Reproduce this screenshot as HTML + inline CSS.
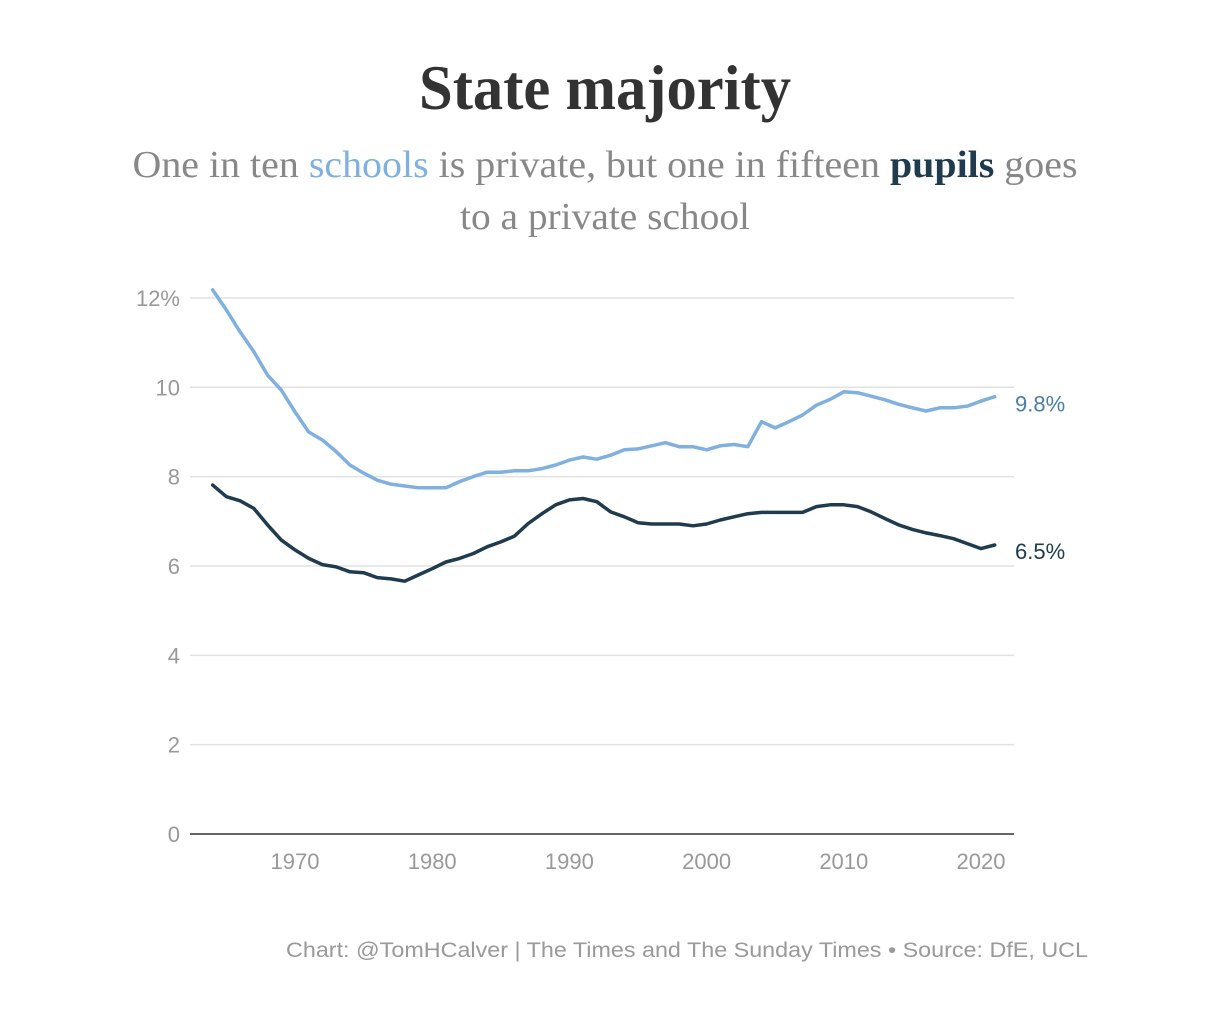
<!DOCTYPE html>
<html><head><meta charset="utf-8"><style>
html,body{margin:0;padding:0;background:#fff;width:1220px;height:1020px;overflow:hidden}
svg{display:block}
.serif{font-family:"Liberation Serif",serif}
.sans{font-family:"Liberation Sans",sans-serif}
</style></head><body>
<svg id="chart" width="1220" height="1020">
<text class="serif" x="605" y="109" text-anchor="middle" font-size="64" font-weight="bold" fill="#333" textLength="372" lengthAdjust="spacingAndGlyphs">State majority</text>
<text class="serif" x="605" y="177" text-anchor="middle" font-size="38" fill="#888" textLength="945" lengthAdjust="spacingAndGlyphs">One in ten <tspan fill="#7fb0e0">schools</tspan> is private, but one in fifteen <tspan fill="#1f3b4d" font-weight="bold">pupils</tspan> goes</text>
<text class="serif" x="605" y="229" text-anchor="middle" font-size="38" fill="#888" textLength="290" lengthAdjust="spacingAndGlyphs">to a private school</text>
<g id="grid"></g><g id="lines"></g>
<text class="sans" x="1088" y="957" text-anchor="end" font-size="21" fill="#999" textLength="802" lengthAdjust="spacingAndGlyphs">Chart: @TomHCalver | The Times and The Sunday Times • Source: DfE, UCL</text>
</svg>
<script>
const years=[];for(let y=1964;y<=2021;y++)years.push(y);
const schools=[12.18,11.73,11.24,10.8,10.27,9.94,9.45,9.0,8.82,8.56,8.26,8.08,7.92,7.83,7.79,7.75,7.75,7.75,7.89,8.0,8.1,8.1,8.13,8.13,8.18,8.26,8.37,8.44,8.39,8.48,8.6,8.62,8.69,8.76,8.67,8.67,8.6,8.69,8.72,8.67,9.23,9.09,9.23,9.38,9.6,9.73,9.9,9.88,9.8,9.72,9.62,9.54,9.47,9.54,9.54,9.58,9.69,9.79];
const pupils=[7.81,7.55,7.46,7.29,6.92,6.58,6.36,6.17,6.03,5.98,5.87,5.85,5.74,5.71,5.66,5.8,5.94,6.09,6.17,6.28,6.43,6.54,6.67,6.95,7.17,7.37,7.48,7.51,7.44,7.21,7.1,6.97,6.94,6.94,6.94,6.9,6.94,7.03,7.1,7.17,7.2,7.2,7.2,7.2,7.33,7.37,7.37,7.33,7.21,7.06,6.92,6.82,6.74,6.68,6.61,6.5,6.39,6.47];
const yTicks=[0,2,4,6,8,10,12];
const yTickLabels=["0","2","4","6","8","10","12%"];
const xTicks=[1970,1980,1990,2000,2010,2020];
const endLabels=["9.8%","6.5%"];
const NS="http://www.w3.org/2000/svg";
const X=v=>295+(v-1970)*13.72;
const Y=v=>834-v*44.67;
const grid=document.getElementById('grid'),lines=document.getElementById('lines');
function mk(tag,attrs,parent,txt){const e=document.createElementNS(NS,tag);for(const k in attrs)e.setAttribute(k,attrs[k]);if(txt!==undefined)e.textContent=txt;parent.appendChild(e);return e;}
yTicks.forEach((t,i)=>{
  if(t>0){const l=mk('line',{x1:190,x2:1014,y1:Y(t),y2:Y(t),stroke:'#e2e2e2','stroke-width':1.5},grid);
  
  }
  const tx=mk('text',{x:180,y:Y(t)+8,'text-anchor':'end','font-size':22,fill:'#999',class:'sans'},grid,yTickLabels[i]);
  
  
});
const base=mk('line',{x1:190,x2:1014,y1:Y(0),y2:Y(0),stroke:'#333','stroke-width':1.5},grid);


xTicks.forEach(t=>{
  const tx=mk('text',{x:X(t),y:869,'text-anchor':'middle','font-size':22,fill:'#999',class:'sans'},grid,String(t));
  
  
});
function path(vals){return vals.map((v,i)=>(i?'L':'M')+X(years[i]).toFixed(1)+','+Y(v).toFixed(1)).join('');}
const p1=mk('path',{d:path(schools),fill:'none',stroke:'#7fb0e0','stroke-width':3.5,'stroke-linejoin':'round','stroke-linecap':'round'},lines);


const p2=mk('path',{d:path(pupils),fill:'none',stroke:'#1f3b4d','stroke-width':3.5,'stroke-linejoin':'round','stroke-linecap':'round'},lines);


const l1=mk('text',{x:1015,y:Y(schools[schools.length-1])+15,'font-size':22,fill:'#4a7ea8',class:'sans'},lines,endLabels[0]);


const l2=mk('text',{x:1015,y:Y(pupils[pupils.length-1])+14,'font-size':22,fill:'#1f3b4d',class:'sans'},lines,endLabels[1]);


</script>
</body></html>
